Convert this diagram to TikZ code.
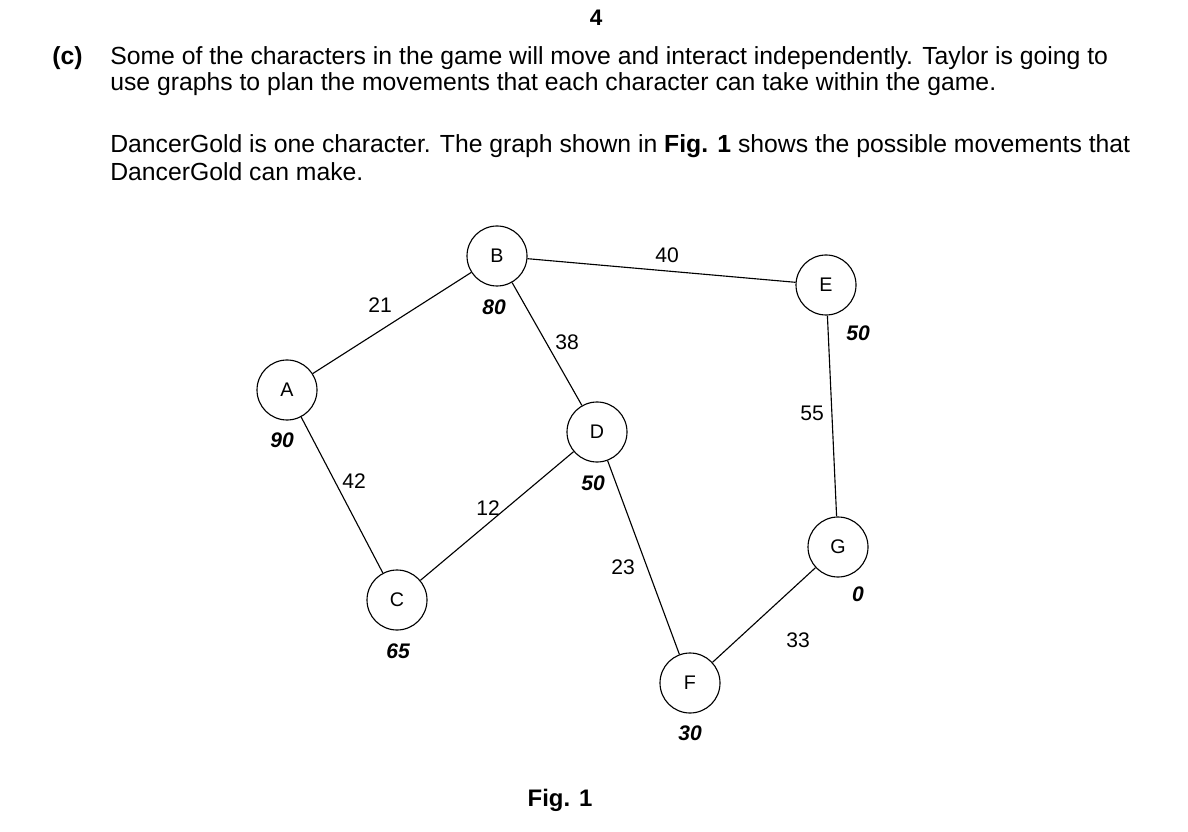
\documentclass[tikz,border=0pt]{standalone}
\usepackage{fontspec}
\setmainfont{Liberation Sans}
\begin{document}
\begin{tikzpicture}[x=0.025cm,y=-0.025cm,
 v/.style={circle,draw,line width=0.8pt,minimum size=60*0.025cm,inner sep=0pt,font=\fontsize{14}{16}\selectfont},
 h/.style={font=\fontsize{15}{17}\selectfont\bfseries\itshape},
 w/.style={font=\fontsize{15}{17}\selectfont},
 t/.style={anchor=west,font=\fontsize{17.6}{20}\selectfont,inner sep=0pt},
 e/.style={line width=0.8pt}]
\useasboundingbox (0,0) rectangle (1188,832);
\node[font=\fontsize{16}{18}\selectfont\bfseries] (n4) at (596,18) {4};
\node[t,font=\fontsize{17.6}{20}\selectfont\bfseries] (c) at (52,58) {(c)};
\node[t] (l1) at (110,58) {Some of the characters in the game will move and interact independently. Taylor is going to};
\node[t] (l2) at (110,84) {use graphs to plan the movements that each character can take within the game.};
\node[t] (l3) at (110,146) {DancerGold is one character. The graph shown in \textbf{Fig. 1} shows the possible movements that};
\node[t] (l4) at (110,172) {DancerGold can make.};
\node[v] (A) at (287,390) {A};
\node[v] (B) at (497,256) {B};
\node[v] (E) at (826,285) {E};
\node[v] (D) at (597,432) {D};
\node[v] (C) at (397,600) {C};
\node[v] (G) at (838,547) {G};
\node[v] (F) at (690,683) {F};
\draw[e] (A)--(B) (B)--(E) (B)--(D) (A)--(C) (C)--(D) (D)--(F) (E)--(G) (G)--(F);
\node[h] (hA) at (282,440) {90};
\node[h] (hB) at (494,307) {80};
\node[h] (hE) at (858,333) {50};
\node[h] (hD) at (593,483) {50};
\node[h] (hC) at (398,651) {65};
\node[h] (hG) at (858,594) {0};
\node[h] (hF) at (690,733) {30};
\node[w] (w1) at (380,305) {21};
\node[w] (w2) at (667,255) {40};
\node[w] (w3) at (567,342) {38};
\node[w] (w4) at (812,413) {55};
\node[w] (w5) at (354,481) {42};
\node[w] (w6) at (488,508) {12};
\node[w] (w7) at (623,567) {23};
\node[w] (w8) at (798,640) {33};
\node[font=\fontsize{17}{20}\selectfont\bfseries] (fig) at (560,800) {Fig. 1};
\end{tikzpicture}
\end{document}
